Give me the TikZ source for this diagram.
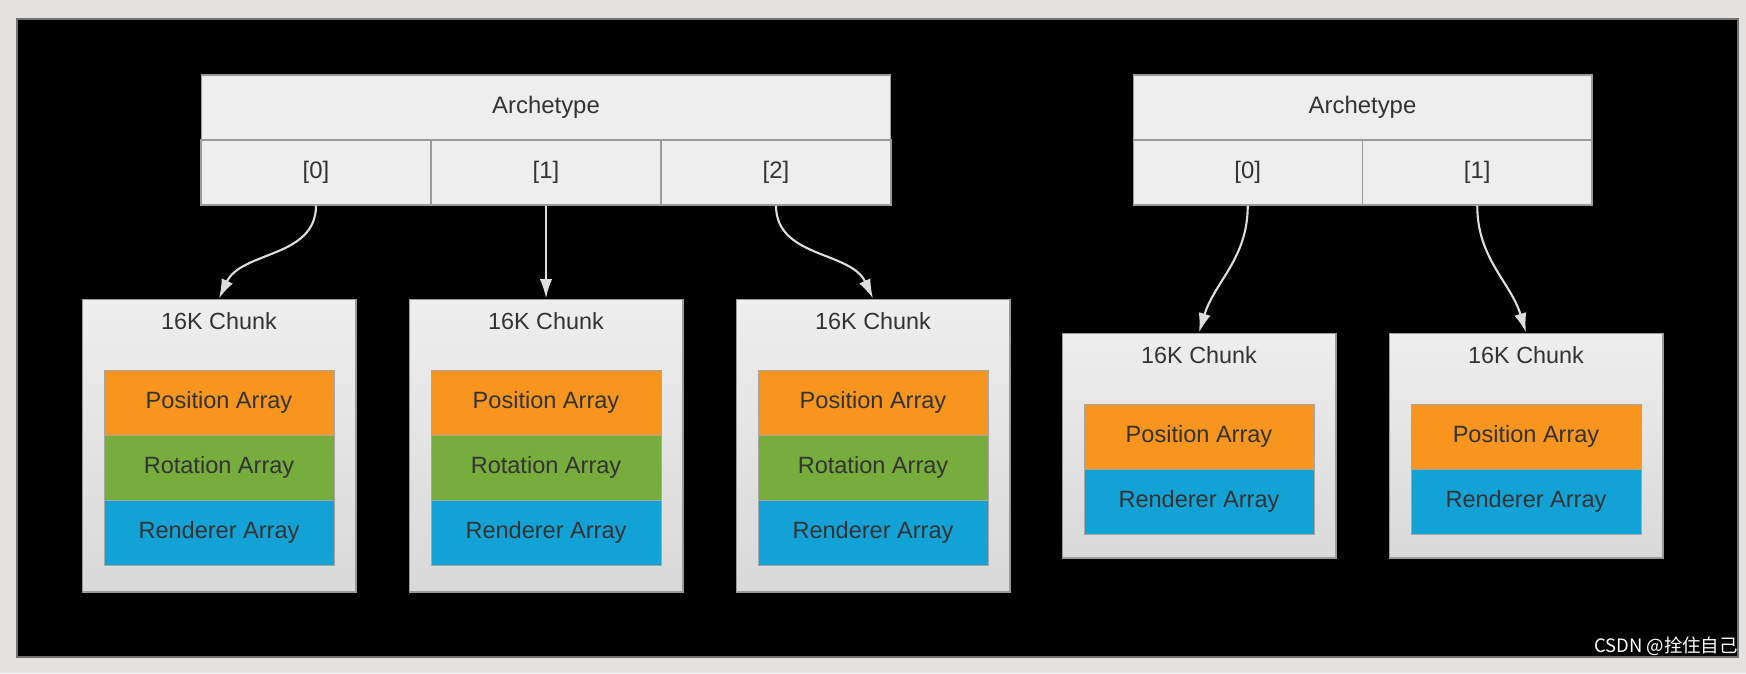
\documentclass[tikz,border=0pt]{standalone}
\usepackage{fontspec}
\setmainfont{Liberation Sans}
\newfontfamily\cjk{Noto Sans CJK SC}
\usepackage{tikz}
\usetikzlibrary{arrows.meta,positioning}
\definecolor{page}{HTML}{E4E1DE}
\definecolor{cellfill}{HTML}{EEEEEE}
\definecolor{cellline}{HTML}{9A9A9A}
\definecolor{ink}{HTML}{333333}
\definecolor{posfill}{HTML}{F7951E}
\definecolor{rotfill}{HTML}{76AD3C}
\definecolor{renfill}{HTML}{12A2D5}
\definecolor{wire}{HTML}{DDDDDD}

\begin{document}
\begin{tikzpicture}[x=0.02cm,y=-0.02cm]
\tikzstyle{head}=[rectangle, draw=cellline, fill=cellfill, line width=0.6pt, minimum width=13.8cm, minimum height=1.3cm, inner sep=0pt, text=ink, font=\fontsize{13.6}{16}\selectfont]
\tikzstyle{cell}=[head, minimum width=4.6cm]
\tikzstyle{chunk}=[rectangle, draw=cellline, line width=0.6pt, top color=cellfill, bottom color=black!15, minimum width=5.48cm, inner sep=0pt]
\tikzstyle{ctitle}=[text=ink, font=\fontsize{13.3}{16}\selectfont]
\tikzstyle{arr}=[rectangle, draw=black!35, line width=0.4pt, minimum width=4.6cm, minimum height=1.3cm, inner sep=0pt, text=ink, font=\fontsize{13.4}{16}\selectfont]
\tikzstyle{posarr}=[arr, fill=posfill]
\tikzstyle{rotarr}=[arr, fill=rotfill]
\tikzstyle{renarr}=[arr, fill=renfill]
\tikzstyle{connect}=[-{Latex[length=11pt,width=7pt]}, draw=wire, line width=1.2pt]
\tikzstyle{wmark}=[text=white!92, font=\cjk\fontsize{10.5}{12}\selectfont, inner sep=0pt]

\useasboundingbox (0,0) rectangle (1746,673);
\fill[page] (0,0) rectangle (1746,673);
\filldraw[fill=black, draw=black!55, line width=0.8pt] (17,19) rectangle (1738,657);

% left archetype
	\node[head] (a1) at (546,107.5) {Archetype};
	\node[cell] (a1c0) at (316,172.5) {[0]};
	\node[cell] (a1c1) at (546,172.5) {[1]};
	\node[cell] (a1c2) at (776,172.5) {[2]};

% right archetype
	\node[head, minimum width=9.18cm] (a2) at (1362.5,107.5) {Archetype};
	\node[cell, minimum width=4.59cm] (a2c0) at (1247.75,172.5) {[0]};
	\node[cell, minimum width=4.59cm] (a2c1) at (1477.25,172.5) {[1]};

% chunks
	\node[chunk, minimum height=5.86cm] (k1) at (219,445.5) {};
	\node[chunk, minimum height=5.86cm] (k2) at (546,445.5) {};
	\node[chunk, minimum height=5.86cm] (k3) at (873,445.5) {};
	\node[chunk, minimum height=4.5cm] (k4) at (1199,445.5) {};
	\node[chunk, minimum height=4.5cm] (k5) at (1526,445.5) {};

	\node[ctitle] (t1) at (219,321) {16K Chunk};
	\node[ctitle] (t2) at (546,321) {16K Chunk};
	\node[ctitle] (t3) at (873,321) {16K Chunk};
	\node[ctitle] (t4) at (1199,355) {16K Chunk};
	\node[ctitle] (t5) at (1526,355) {16K Chunk};

	\node[posarr] (pos1) at (219,402.5) {Position Array};
	\node[rotarr] (rot1) at (219,467.5) {Rotation Array};
	\node[renarr] (ren1) at (219,532.5) {Renderer Array};

	\node[posarr] (pos2) at (546,402.5) {Position Array};
	\node[rotarr] (rot2) at (546,467.5) {Rotation Array};
	\node[renarr] (ren2) at (546,532.5) {Renderer Array};

	\node[posarr] (pos3) at (873,402.5) {Position Array};
	\node[rotarr] (rot3) at (873,467.5) {Rotation Array};
	\node[renarr] (ren3) at (873,532.5) {Renderer Array};

	\node[posarr] (pos4) at (1199,436.5) {Position Array};
	\node[renarr] (ren4) at (1199,501.5) {Renderer Array};

	\node[posarr] (pos5) at (1526,436.5) {Position Array};
	\node[renarr] (ren5) at (1526,501.5) {Renderer Array};

	\draw[connect] (a1c0.south) to[out=-90,in=65] (k1.north);
	\draw[connect] (a1c1.south) -- (k2.north);
	\draw[connect] (a1c2.south) to[out=-90,in=115] (k3.north);
	\draw[connect] (a2c0.south) to[out=-90,in=73] (k4.north);
	\draw[connect] (a2c1.south) to[out=-90,in=107] (k5.north);

	\node[wmark] (wm) at (1666,646) {CSDN @拴住自己};

\end{tikzpicture}
\end{document}
